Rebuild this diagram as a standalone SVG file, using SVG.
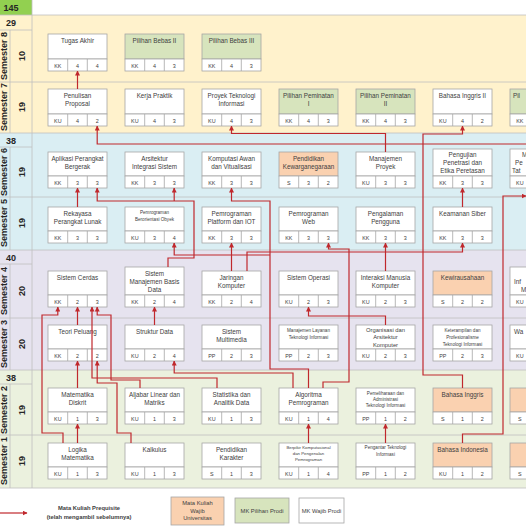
<svg xmlns="http://www.w3.org/2000/svg" width="526" height="526" viewBox="0 0 526 526">
<defs>
<marker id="ah" markerUnits="userSpaceOnUse" markerWidth="5" markerHeight="5" refX="4.5" refY="2.5" orient="auto"><path d="M0,0 L5,2.5 L0,5 z" fill="#C0282D"/></marker>
<style>
.bx{stroke:#A6A6A6;stroke-width:0.8}
.w{fill:#FFFFFF}.g{fill:#D7E4BD}.o{fill:#FAD1B0}
.dv{stroke:#A6A6A6;stroke-width:0.8}
.t{font-family:"Liberation Sans",Arial,sans-serif;font-size:6.3px;fill:#404040;text-anchor:middle}
.ts{font-size:4.6px}
.d{font-size:5.4px}
.h{font-family:"Liberation Sans",Arial,sans-serif;font-weight:bold;font-size:9px;fill:#262626;text-anchor:middle}
.sl{font-family:"Liberation Sans",Arial,sans-serif;font-weight:bold;font-size:9px;fill:#262626;text-anchor:middle}
.gl{stroke:#BFBFBF;stroke-width:0.8}
.c{fill:none;stroke:#C0282D;stroke-width:1.2;marker-end:url(#ah)}
.lg{font-family:"Liberation Sans",Arial,sans-serif;font-size:5.8px;fill:#404040;text-anchor:middle}
</style>
</defs>
<rect width="526" height="526" fill="#FFFFFF"/>
<!-- bands -->
<g id="bands">
<rect x="0" y="0" width="32" height="15" fill="#92D050"/>
<rect x="0" y="15" width="526" height="118" fill="#FFF2CC"/>
<rect x="0" y="133" width="526" height="117" fill="#DAEEF3"/>
<rect x="0" y="250" width="526" height="120" fill="#E6E3EF"/>
<rect x="0" y="370" width="526" height="118" fill="#EBF1DE"/>
<line class="gl" x1="0" y1="15" x2="526" y2="15"/>
<line class="gl" x1="0" y1="30" x2="32" y2="30"/>
<line class="gl" x1="0" y1="82" x2="526" y2="82"/>
<line class="gl" x1="0" y1="133" x2="526" y2="133"/>
<line class="gl" x1="0" y1="147" x2="32" y2="147"/>
<line class="gl" x1="0" y1="197" x2="526" y2="197"/>
<line class="gl" x1="0" y1="250" x2="526" y2="250"/>
<line class="gl" x1="0" y1="264" x2="32" y2="264"/>
<line class="gl" x1="0" y1="318" x2="526" y2="318"/>
<line class="gl" x1="0" y1="370" x2="526" y2="370"/>
<line class="gl" x1="0" y1="384" x2="32" y2="384"/>
<line class="gl" x1="0" y1="435" x2="526" y2="435"/>
<line class="gl" x1="0" y1="488" x2="526" y2="488"/>
<line class="gl" x1="32" y1="0" x2="32" y2="488"/>
<line class="gl" x1="10" y1="30" x2="10" y2="133"/>
<line class="gl" x1="10" y1="147" x2="10" y2="250"/>
<line class="gl" x1="10" y1="264" x2="10" y2="370"/>
<line class="gl" x1="10" y1="384" x2="10" y2="488"/>
<text class="h" x="11" y="11">145</text>
<text class="h" x="11" y="26">29</text>
<text class="h" x="11" y="144">38</text>
<text class="h" x="11" y="261">40</text>
<text class="h" x="11" y="381">38</text>
<text class="h" transform="translate(24.5,56) rotate(-90)">10</text>
<text class="h" transform="translate(24.5,107) rotate(-90)">19</text>
<text class="h" transform="translate(24.5,172) rotate(-90)">19</text>
<text class="h" transform="translate(24.5,223) rotate(-90)">19</text>
<text class="h" transform="translate(24.5,291) rotate(-90)">20</text>
<text class="h" transform="translate(24.5,344) rotate(-90)">20</text>
<text class="h" transform="translate(24.5,410) rotate(-90)">19</text>
<text class="h" transform="translate(24.5,461) rotate(-90)">19</text>
<text class="sl" transform="translate(6.5,56) rotate(-90)">Semester 8</text>
<text class="sl" transform="translate(6.5,107) rotate(-90)">Semester 7</text>
<text class="sl" transform="translate(6.5,172) rotate(-90)">Semester 6</text>
<text class="sl" transform="translate(6.5,223) rotate(-90)">Semester 5</text>
<text class="sl" transform="translate(6.5,291) rotate(-90)">Semester 4</text>
<text class="sl" transform="translate(6.5,344) rotate(-90)">Semester 3</text>
<text class="sl" transform="translate(6.5,410) rotate(-90)">Semester 2</text>
<text class="sl" transform="translate(6.5,461) rotate(-90)">Semester 1</text>
</g>

<!-- Semester 8 -->
<g id="n-tugas-akhir" transform="translate(48,34)"><rect class="bx w" width="59" height="25"/><rect class="bx w" y="25" width="59" height="12"/><line class="dv" x1="19.7" y1="25" x2="19.7" y2="37"/><line class="dv" x1="39.3" y1="25" x2="39.3" y2="37"/><text class="t" x="29.5" y="8.5">Tugas Akhir</text><text class="t d" x="9.8" y="33.5">KK</text><text class="t d" x="29.5" y="33.5">4</text><text class="t d" x="49.2" y="33.5">4</text></g>
<g id="n-pilihan-bebas-2" transform="translate(125,34)"><rect class="bx g" width="59" height="25"/><rect class="bx w" y="25" width="59" height="12"/><line class="dv" x1="19.7" y1="25" x2="19.7" y2="37"/><line class="dv" x1="39.3" y1="25" x2="39.3" y2="37"/><text class="t" x="29.5" y="8.5">Pilihan Bebas II</text><text class="t d" x="9.8" y="33.5">KK</text><text class="t d" x="29.5" y="33.5">4</text><text class="t d" x="49.2" y="33.5">3</text></g>
<g id="n-pilihan-bebas-3" transform="translate(202,34)"><rect class="bx g" width="59" height="25"/><rect class="bx w" y="25" width="59" height="12"/><line class="dv" x1="19.7" y1="25" x2="19.7" y2="37"/><line class="dv" x1="39.3" y1="25" x2="39.3" y2="37"/><text class="t" x="29.5" y="8.5">Pilihan Bebas III</text><text class="t d" x="9.8" y="33.5">KK</text><text class="t d" x="29.5" y="33.5">4</text><text class="t d" x="49.2" y="33.5">3</text></g>

<!-- Semester 7 -->
<g id="n-penulisan-proposal" transform="translate(48,89)"><rect class="bx w" width="59" height="25"/><rect class="bx w" y="25" width="59" height="12"/><line class="dv" x1="19.7" y1="25" x2="19.7" y2="37"/><line class="dv" x1="39.3" y1="25" x2="39.3" y2="37"/><text class="t" x="29.5" y="8.5">Penulisan</text><text class="t" x="29.5" y="16.5">Proposal</text><text class="t d" x="9.8" y="33.5">KU</text><text class="t d" x="29.5" y="33.5">4</text><text class="t d" x="49.2" y="33.5">2</text></g>
<g id="n-kerja-praktik" transform="translate(125,89)"><rect class="bx w" width="59" height="25"/><rect class="bx w" y="25" width="59" height="12"/><line class="dv" x1="19.7" y1="25" x2="19.7" y2="37"/><line class="dv" x1="39.3" y1="25" x2="39.3" y2="37"/><text class="t" x="29.5" y="8.5">Kerja Praktik</text><text class="t d" x="9.8" y="33.5">KU</text><text class="t d" x="29.5" y="33.5">4</text><text class="t d" x="49.2" y="33.5">3</text></g>
<g id="n-proyek-ti" transform="translate(202,89)"><rect class="bx w" width="59" height="25"/><rect class="bx w" y="25" width="59" height="12"/><line class="dv" x1="19.7" y1="25" x2="19.7" y2="37"/><line class="dv" x1="39.3" y1="25" x2="39.3" y2="37"/><text class="t" x="29.5" y="8.5">Proyek Teknologi</text><text class="t" x="29.5" y="16.5">Informasi</text><text class="t d" x="9.8" y="33.5">KU</text><text class="t d" x="29.5" y="33.5">4</text><text class="t d" x="49.2" y="33.5">3</text></g>
<g id="n-pilihan-peminatan-1" transform="translate(279,89)"><rect class="bx g" width="59" height="25"/><rect class="bx w" y="25" width="59" height="12"/><line class="dv" x1="19.7" y1="25" x2="19.7" y2="37"/><line class="dv" x1="39.3" y1="25" x2="39.3" y2="37"/><text class="t" x="29.5" y="8.5">Pilihan Peminatan</text><text class="t" x="29.5" y="16.5">I</text><text class="t d" x="9.8" y="33.5">KK</text><text class="t d" x="29.5" y="33.5">4</text><text class="t d" x="49.2" y="33.5">3</text></g>
<g id="n-pilihan-peminatan-2" transform="translate(356,89)"><rect class="bx g" width="59" height="25"/><rect class="bx w" y="25" width="59" height="12"/><line class="dv" x1="19.7" y1="25" x2="19.7" y2="37"/><line class="dv" x1="39.3" y1="25" x2="39.3" y2="37"/><text class="t" x="29.5" y="8.5">Pilihan Peminatan</text><text class="t" x="29.5" y="16.5">II</text><text class="t d" x="9.8" y="33.5">KK</text><text class="t d" x="29.5" y="33.5">4</text><text class="t d" x="49.2" y="33.5">3</text></g>
<g id="n-bahasa-inggris-2" transform="translate(433,89)"><rect class="bx w" width="59" height="25"/><rect class="bx w" y="25" width="59" height="12"/><line class="dv" x1="19.7" y1="25" x2="19.7" y2="37"/><line class="dv" x1="39.3" y1="25" x2="39.3" y2="37"/><text class="t" x="29.5" y="8.5">Bahasa Inggris II</text><text class="t d" x="9.8" y="33.5">KU</text><text class="t d" x="29.5" y="33.5">4</text><text class="t d" x="49.2" y="33.5">2</text></g>
<g id="n-s7-c7" transform="translate(510,89)"><rect class="bx g" width="59" height="25"/><rect class="bx w" y="25" width="59" height="12"/><line class="dv" x1="19.7" y1="25" x2="19.7" y2="37"/><text class="t" x="3" y="8.5" style="text-anchor:start">Pil</text><text class="t d" x="9.8" y="33.5">KK</text></g>

<!-- Semester 6 -->
<g id="n-aplikasi-perangkat-bergerak" transform="translate(48,152)"><rect class="bx w" width="59" height="24"/><rect class="bx w" y="24" width="59" height="12"/><line class="dv" x1="19.7" y1="24" x2="19.7" y2="36"/><line class="dv" x1="39.3" y1="24" x2="39.3" y2="36"/><text class="t" x="29.5" y="8.5">Aplikasi Perangkat</text><text class="t" x="29.5" y="16.5">Bergerak</text><text class="t d" x="9.8" y="32.5">KK</text><text class="t d" x="29.5" y="32.5">3</text><text class="t d" x="49.2" y="32.5">3</text></g>
<g id="n-arsitektur-integrasi-sistem" transform="translate(125,152)"><rect class="bx w" width="59" height="24"/><rect class="bx w" y="24" width="59" height="12"/><line class="dv" x1="19.7" y1="24" x2="19.7" y2="36"/><line class="dv" x1="39.3" y1="24" x2="39.3" y2="36"/><text class="t" x="29.5" y="8.5">Arsitektur</text><text class="t" x="29.5" y="16.5">Integrasi Sistem</text><text class="t d" x="9.8" y="32.5">KK</text><text class="t d" x="29.5" y="32.5">3</text><text class="t d" x="49.2" y="32.5">3</text></g>
<g id="n-komputasi-awan" transform="translate(202,152)"><rect class="bx w" width="59" height="24"/><rect class="bx w" y="24" width="59" height="12"/><line class="dv" x1="19.7" y1="24" x2="19.7" y2="36"/><line class="dv" x1="39.3" y1="24" x2="39.3" y2="36"/><text class="t" x="29.5" y="8.5">Komputasi Awan</text><text class="t" x="29.5" y="16.5">dan Vitualisasi</text><text class="t d" x="9.8" y="32.5">KK</text><text class="t d" x="29.5" y="32.5">3</text><text class="t d" x="49.2" y="32.5">3</text></g>
<g id="n-pendidikan-kewarganegaraan" transform="translate(279,152)"><rect class="bx o" width="59" height="24"/><rect class="bx w" y="24" width="59" height="12"/><line class="dv" x1="19.7" y1="24" x2="19.7" y2="36"/><line class="dv" x1="39.3" y1="24" x2="39.3" y2="36"/><text class="t" x="29.5" y="8.5">Pendidikan</text><text class="t" x="29.5" y="16.5">Kewarganegaraan</text><text class="t d" x="9.8" y="32.5">S</text><text class="t d" x="29.5" y="32.5">3</text><text class="t d" x="49.2" y="32.5">2</text></g>
<g id="n-manajemen-proyek" transform="translate(356,152)"><rect class="bx w" width="59" height="24"/><rect class="bx w" y="24" width="59" height="12"/><line class="dv" x1="19.7" y1="24" x2="19.7" y2="36"/><line class="dv" x1="39.3" y1="24" x2="39.3" y2="36"/><text class="t" x="29.5" y="8.5">Manajemen</text><text class="t" x="29.5" y="16.5">Proyek</text><text class="t d" x="9.8" y="32.5">KU</text><text class="t d" x="29.5" y="32.5">3</text><text class="t d" x="49.2" y="32.5">3</text></g>
<g id="n-pengujian-penetrasi" transform="translate(433,149)"><rect class="bx w" width="59" height="27"/><rect class="bx w" y="27" width="59" height="12"/><line class="dv" x1="19.7" y1="27" x2="19.7" y2="39"/><line class="dv" x1="39.3" y1="27" x2="39.3" y2="39"/><text class="t" x="29.5" y="8">Pengujian</text><text class="t" x="29.5" y="16">Penetrasi dan</text><text class="t" x="29.5" y="24">Etika Peretasan</text><text class="t d" x="9.8" y="35.5">KK</text><text class="t d" x="29.5" y="35.5">3</text><text class="t d" x="49.2" y="35.5">3</text></g>
<g id="n-s6-c7" transform="translate(510,149)"><rect class="bx w" width="59" height="27"/><rect class="bx w" y="27" width="59" height="12"/><line class="dv" x1="19.7" y1="27" x2="19.7" y2="39"/><text class="t" x="12" y="8" style="text-anchor:start">M</text><text class="t" x="5" y="16" style="text-anchor:start">Pe</text><text class="t" x="2" y="24" style="text-anchor:start">Tat</text><text class="t d" x="9.8" y="35.5">KU</text></g>

<!-- Semester 5 -->
<g id="n-rekayasa-perangkat-lunak" transform="translate(48,207)"><rect class="bx w" width="59" height="24"/><rect class="bx w" y="24" width="59" height="12"/><line class="dv" x1="19.7" y1="24" x2="19.7" y2="36"/><line class="dv" x1="39.3" y1="24" x2="39.3" y2="36"/><text class="t" x="29.5" y="8.5">Rekayasa</text><text class="t" x="29.5" y="16.5">Perangkat Lunak</text><text class="t d" x="9.8" y="32.5">KK</text><text class="t d" x="29.5" y="32.5">3</text><text class="t d" x="49.2" y="32.5">3</text></g>
<g id="n-pbo" transform="translate(125,207)"><rect class="bx w" width="59" height="24"/><rect class="bx w" y="24" width="59" height="12"/><line class="dv" x1="19.7" y1="24" x2="19.7" y2="36"/><line class="dv" x1="39.3" y1="24" x2="39.3" y2="36"/><text class="t ts" x="29.5" y="7">Pemrograman</text><text class="t ts" x="29.5" y="14">Berorientasi Obyek</text><text class="t d" x="9.8" y="32.5">KU</text><text class="t d" x="29.5" y="32.5">3</text><text class="t d" x="49.2" y="32.5">4</text></g>
<g id="n-platform-iot" transform="translate(202,207)"><rect class="bx w" width="59" height="24"/><rect class="bx w" y="24" width="59" height="12"/><line class="dv" x1="19.7" y1="24" x2="19.7" y2="36"/><line class="dv" x1="39.3" y1="24" x2="39.3" y2="36"/><text class="t" x="29.5" y="8.5">Pemrograman</text><text class="t" x="29.5" y="16.5">Platform dan IOT</text><text class="t d" x="9.8" y="32.5">KK</text><text class="t d" x="29.5" y="32.5">3</text><text class="t d" x="49.2" y="32.5">3</text></g>
<g id="n-pemrograman-web" transform="translate(279,207)"><rect class="bx w" width="59" height="24"/><rect class="bx w" y="24" width="59" height="12"/><line class="dv" x1="19.7" y1="24" x2="19.7" y2="36"/><line class="dv" x1="39.3" y1="24" x2="39.3" y2="36"/><text class="t" x="29.5" y="8.5">Pemrograman</text><text class="t" x="29.5" y="16.5">Web</text><text class="t d" x="9.8" y="32.5">KK</text><text class="t d" x="29.5" y="32.5">3</text><text class="t d" x="49.2" y="32.5">3</text></g>
<g id="n-pengalaman-pengguna" transform="translate(356,207)"><rect class="bx w" width="59" height="24"/><rect class="bx w" y="24" width="59" height="12"/><line class="dv" x1="19.7" y1="24" x2="19.7" y2="36"/><line class="dv" x1="39.3" y1="24" x2="39.3" y2="36"/><text class="t" x="29.5" y="8.5">Pengalaman</text><text class="t" x="29.5" y="16.5">Pengguna</text><text class="t d" x="9.8" y="32.5">KK</text><text class="t d" x="29.5" y="32.5">3</text><text class="t d" x="49.2" y="32.5">3</text></g>
<g id="n-keamanan-siber" transform="translate(433,207)"><rect class="bx w" width="59" height="24"/><rect class="bx w" y="24" width="59" height="12"/><line class="dv" x1="19.7" y1="24" x2="19.7" y2="36"/><line class="dv" x1="39.3" y1="24" x2="39.3" y2="36"/><text class="t" x="29.5" y="8.5">Keamanan Siber</text><text class="t d" x="9.8" y="32.5">KK</text><text class="t d" x="29.5" y="32.5">3</text><text class="t d" x="49.2" y="32.5">3</text></g>

<!-- Semester 4 -->
<g id="n-sistem-cerdas" transform="translate(48,271)"><rect class="bx w" width="59" height="24"/><rect class="bx w" y="24" width="59" height="12"/><line class="dv" x1="19.7" y1="24" x2="19.7" y2="36"/><line class="dv" x1="39.3" y1="24" x2="39.3" y2="36"/><text class="t" x="29.5" y="8.5">Sistem Cerdas</text><text class="t d" x="9.8" y="32.5">KK</text><text class="t d" x="29.5" y="32.5">2</text><text class="t d" x="49.2" y="32.5">3</text></g>
<g id="n-smbd" transform="translate(125,267)"><rect class="bx w" width="59" height="28"/><rect class="bx w" y="28" width="59" height="12"/><line class="dv" x1="19.7" y1="28" x2="19.7" y2="40"/><line class="dv" x1="39.3" y1="28" x2="39.3" y2="40"/><text class="t" x="29.5" y="9">Sistem</text><text class="t" x="29.5" y="17">Manajemen Basis</text><text class="t" x="29.5" y="25">Data</text><text class="t d" x="9.8" y="36.5">KK</text><text class="t d" x="29.5" y="36.5">2</text><text class="t d" x="49.2" y="36.5">4</text></g>
<g id="n-jaringan-komputer" transform="translate(202,271)"><rect class="bx w" width="59" height="24"/><rect class="bx w" y="24" width="59" height="12"/><line class="dv" x1="19.7" y1="24" x2="19.7" y2="36"/><line class="dv" x1="39.3" y1="24" x2="39.3" y2="36"/><text class="t" x="29.5" y="8.5">Jaringan</text><text class="t" x="29.5" y="16.5">Komputer</text><text class="t d" x="9.8" y="32.5">KK</text><text class="t d" x="29.5" y="32.5">2</text><text class="t d" x="49.2" y="32.5">4</text></g>
<g id="n-sistem-operasi" transform="translate(279,271)"><rect class="bx w" width="59" height="24"/><rect class="bx w" y="24" width="59" height="12"/><line class="dv" x1="19.7" y1="24" x2="19.7" y2="36"/><line class="dv" x1="39.3" y1="24" x2="39.3" y2="36"/><text class="t" x="29.5" y="8.5">Sistem Operasi</text><text class="t d" x="9.8" y="32.5">KU</text><text class="t d" x="29.5" y="32.5">2</text><text class="t d" x="49.2" y="32.5">3</text></g>
<g id="n-imk" transform="translate(356,271)"><rect class="bx w" width="59" height="24"/><rect class="bx w" y="24" width="59" height="12"/><line class="dv" x1="19.7" y1="24" x2="19.7" y2="36"/><line class="dv" x1="39.3" y1="24" x2="39.3" y2="36"/><text class="t" x="29.5" y="8.5">Interaksi Manusia</text><text class="t" x="29.5" y="16.5">Komputer</text><text class="t d" x="9.8" y="32.5">KU</text><text class="t d" x="29.5" y="32.5">2</text><text class="t d" x="49.2" y="32.5">3</text></g>
<g id="n-kewirausahaan" transform="translate(433,271)"><rect class="bx o" width="59" height="24"/><rect class="bx w" y="24" width="59" height="12"/><line class="dv" x1="19.7" y1="24" x2="19.7" y2="36"/><line class="dv" x1="39.3" y1="24" x2="39.3" y2="36"/><text class="t" x="29.5" y="8.5">Kewirausahaan</text><text class="t d" x="9.8" y="32.5">S</text><text class="t d" x="29.5" y="32.5">2</text><text class="t d" x="49.2" y="32.5">2</text></g>
<g id="n-s4-c7" transform="translate(510,267)"><rect class="bx w" width="59" height="28"/><rect class="bx w" y="28" width="59" height="12"/><line class="dv" x1="19.7" y1="28" x2="19.7" y2="40"/><text class="t" x="4" y="17" style="text-anchor:start">Inf</text><text class="t" x="11" y="25" style="text-anchor:start">M</text><text class="t d" x="9.8" y="36.5">KU</text></g>

<!-- Semester 3 -->
<g id="n-teori-peluang" transform="translate(48,325)"><rect class="bx w" width="59" height="24"/><rect class="bx w" y="24" width="59" height="12"/><line class="dv" x1="19.7" y1="24" x2="19.7" y2="36"/><line class="dv" x1="39.3" y1="24" x2="39.3" y2="36"/><text class="t" x="29.5" y="8.5">Teori Peluang</text><text class="t d" x="9.8" y="32.5">KK</text><text class="t d" x="29.5" y="32.5">2</text><text class="t d" x="49.2" y="32.5">2</text></g>
<g id="n-struktur-data" transform="translate(125,325)"><rect class="bx w" width="59" height="24"/><rect class="bx w" y="24" width="59" height="12"/><line class="dv" x1="19.7" y1="24" x2="19.7" y2="36"/><line class="dv" x1="39.3" y1="24" x2="39.3" y2="36"/><text class="t" x="29.5" y="8.5">Struktur Data</text><text class="t d" x="9.8" y="32.5">KU</text><text class="t d" x="29.5" y="32.5">2</text><text class="t d" x="49.2" y="32.5">4</text></g>
<g id="n-sistem-multimedia" transform="translate(202,325)"><rect class="bx w" width="59" height="24"/><rect class="bx w" y="24" width="59" height="12"/><line class="dv" x1="19.7" y1="24" x2="19.7" y2="36"/><line class="dv" x1="39.3" y1="24" x2="39.3" y2="36"/><text class="t" x="29.5" y="8.5">Sistem</text><text class="t" x="29.5" y="16.5">Multimedia</text><text class="t d" x="9.8" y="32.5">PP</text><text class="t d" x="29.5" y="32.5">2</text><text class="t d" x="49.2" y="32.5">3</text></g>
<g id="n-manajemen-layanan-ti" transform="translate(279,325)"><rect class="bx w" width="59" height="24"/><rect class="bx w" y="24" width="59" height="12"/><line class="dv" x1="19.7" y1="24" x2="19.7" y2="36"/><line class="dv" x1="39.3" y1="24" x2="39.3" y2="36"/><text class="t ts" x="29.5" y="7">Manajemen Layanan</text><text class="t ts" x="29.5" y="14">Teknologi Informasi</text><text class="t d" x="9.8" y="32.5">PP</text><text class="t d" x="29.5" y="32.5">2</text><text class="t d" x="49.2" y="32.5">3</text></g>
<g id="n-organisasi-arsitektur-komputer" transform="translate(356,325)"><rect class="bx w" width="59" height="24"/><rect class="bx w" y="24" width="59" height="12"/><line class="dv" x1="19.7" y1="24" x2="19.7" y2="36"/><line class="dv" x1="39.3" y1="24" x2="39.3" y2="36"/><text class="t" x="29.5" y="7" style="font-size:5.8px">Organisasi dan</text><text class="t" x="29.5" y="14.3" style="font-size:5.8px">Arsitektur</text><text class="t" x="29.5" y="21.6" style="font-size:5.8px">Komputer</text><text class="t d" x="9.8" y="32.5">KU</text><text class="t d" x="29.5" y="32.5">2</text><text class="t d" x="49.2" y="32.5">3</text></g>
<g id="n-keterampilan-profesionalisme" transform="translate(433,325)"><rect class="bx w" width="59" height="24"/><rect class="bx w" y="24" width="59" height="12"/><line class="dv" x1="19.7" y1="24" x2="19.7" y2="36"/><line class="dv" x1="39.3" y1="24" x2="39.3" y2="36"/><text class="t ts" x="29.5" y="6.5">Keterampilan dan</text><text class="t ts" x="29.5" y="13.5">Profesionalisme</text><text class="t ts" x="29.5" y="20.5">Teknologi Informasi</text><text class="t d" x="9.8" y="32.5">PP</text><text class="t d" x="29.5" y="32.5">2</text><text class="t d" x="49.2" y="32.5">3</text></g>
<g id="n-s3-c7" transform="translate(510,325)"><rect class="bx w" width="59" height="24"/><rect class="bx w" y="24" width="59" height="12"/><line class="dv" x1="19.7" y1="24" x2="19.7" y2="36"/><text class="t" x="4" y="8.5" style="text-anchor:start">Wa</text><text class="t d" x="9.8" y="32.5">KU</text></g>

<!-- Semester 2 -->
<g id="n-matematika-diskrit" transform="translate(48,388)"><rect class="bx w" width="59" height="24"/><rect class="bx w" y="24" width="59" height="12"/><line class="dv" x1="19.7" y1="24" x2="19.7" y2="36"/><line class="dv" x1="39.3" y1="24" x2="39.3" y2="36"/><text class="t" x="29.5" y="8.5">Matematika</text><text class="t" x="29.5" y="16.5">Diskrit</text><text class="t d" x="9.8" y="32.5">KU</text><text class="t d" x="29.5" y="32.5">1</text><text class="t d" x="49.2" y="32.5">3</text></g>
<g id="n-aljabar-linear" transform="translate(125,388)"><rect class="bx w" width="59" height="24"/><rect class="bx w" y="24" width="59" height="12"/><line class="dv" x1="19.7" y1="24" x2="19.7" y2="36"/><line class="dv" x1="39.3" y1="24" x2="39.3" y2="36"/><text class="t" x="29.5" y="8.5">Aljabar Linear dan</text><text class="t" x="29.5" y="16.5">Matriks</text><text class="t d" x="9.8" y="32.5">KU</text><text class="t d" x="29.5" y="32.5">1</text><text class="t d" x="49.2" y="32.5">3</text></g>
<g id="n-statistika" transform="translate(202,388)"><rect class="bx w" width="59" height="24"/><rect class="bx w" y="24" width="59" height="12"/><line class="dv" x1="19.7" y1="24" x2="19.7" y2="36"/><line class="dv" x1="39.3" y1="24" x2="39.3" y2="36"/><text class="t" x="29.5" y="8.5">Statistika dan</text><text class="t" x="29.5" y="16.5">Analitik Data</text><text class="t d" x="9.8" y="32.5">KU</text><text class="t d" x="29.5" y="32.5">1</text><text class="t d" x="49.2" y="32.5">3</text></g>
<g id="n-algoritma-pemrograman" transform="translate(279,388)"><rect class="bx w" width="59" height="24"/><rect class="bx w" y="24" width="59" height="12"/><line class="dv" x1="19.7" y1="24" x2="19.7" y2="36"/><line class="dv" x1="39.3" y1="24" x2="39.3" y2="36"/><text class="t" x="29.5" y="8.5">Algoritma</text><text class="t" x="29.5" y="16.5">Pemrograman</text><text class="t d" x="9.8" y="32.5">KU</text><text class="t d" x="29.5" y="32.5">1</text><text class="t d" x="49.2" y="32.5">4</text></g>
<g id="n-pemeliharaan-administrasi-ti" transform="translate(356,388)"><rect class="bx w" width="59" height="24"/><rect class="bx w" y="24" width="59" height="12"/><line class="dv" x1="19.7" y1="24" x2="19.7" y2="36"/><line class="dv" x1="39.3" y1="24" x2="39.3" y2="36"/><text class="t ts" x="29.5" y="6.5">Pemeliharaan dan</text><text class="t ts" x="29.5" y="12.5">Administrasi</text><text class="t ts" x="29.5" y="18.5">Teknologi Informasi</text><text class="t d" x="9.8" y="32.5">PP</text><text class="t d" x="29.5" y="32.5">1</text><text class="t d" x="49.2" y="32.5">2</text></g>
<g id="n-bahasa-inggris" transform="translate(433,388)"><rect class="bx o" width="59" height="24"/><rect class="bx w" y="24" width="59" height="12"/><line class="dv" x1="19.7" y1="24" x2="19.7" y2="36"/><line class="dv" x1="39.3" y1="24" x2="39.3" y2="36"/><text class="t" x="29.5" y="8.5">Bahasa Inggris</text><text class="t d" x="9.8" y="32.5">S</text><text class="t d" x="29.5" y="32.5">1</text><text class="t d" x="49.2" y="32.5">2</text></g>
<g id="n-s2-c7" transform="translate(510,388)"><rect class="bx o" width="59" height="24"/><rect class="bx w" y="24" width="59" height="12"/><line class="dv" x1="19.7" y1="24" x2="19.7" y2="36"/><text class="t d" x="9.8" y="32.5">S</text></g>

<!-- Semester 1 -->
<g id="n-logika-matematika" transform="translate(48,443)"><rect class="bx w" width="59" height="24"/><rect class="bx w" y="24" width="59" height="12"/><line class="dv" x1="19.7" y1="24" x2="19.7" y2="36"/><line class="dv" x1="39.3" y1="24" x2="39.3" y2="36"/><text class="t" x="29.5" y="8.5">Logika</text><text class="t" x="29.5" y="16.5">Matematika</text><text class="t d" x="9.8" y="32.5">KU</text><text class="t d" x="29.5" y="32.5">1</text><text class="t d" x="49.2" y="32.5">3</text></g>
<g id="n-kalkulus" transform="translate(125,443)"><rect class="bx w" width="59" height="24"/><rect class="bx w" y="24" width="59" height="12"/><line class="dv" x1="19.7" y1="24" x2="19.7" y2="36"/><line class="dv" x1="39.3" y1="24" x2="39.3" y2="36"/><text class="t" x="29.5" y="8.5">Kalkulus</text><text class="t d" x="9.8" y="32.5">KU</text><text class="t d" x="29.5" y="32.5">1</text><text class="t d" x="49.2" y="32.5">3</text></g>
<g id="n-pendidikan-karakter" transform="translate(202,443)"><rect class="bx w" width="59" height="24"/><rect class="bx w" y="24" width="59" height="12"/><line class="dv" x1="19.7" y1="24" x2="19.7" y2="36"/><line class="dv" x1="39.3" y1="24" x2="39.3" y2="36"/><text class="t" x="29.5" y="8.5">Pendidikan</text><text class="t" x="29.5" y="16.5">Karakter</text><text class="t d" x="9.8" y="32.5">S</text><text class="t d" x="29.5" y="32.5">1</text><text class="t d" x="49.2" y="32.5">3</text></g>
<g id="n-berpikir-komputasional" transform="translate(279,443)"><rect class="bx w" width="59" height="24"/><rect class="bx w" y="24" width="59" height="12"/><line class="dv" x1="19.7" y1="24" x2="19.7" y2="36"/><line class="dv" x1="39.3" y1="24" x2="39.3" y2="36"/><text class="t ts" x="29.5" y="5.8" style="font-size:4.3px">Berpikir Komputasional</text><text class="t ts" x="29.5" y="11.8" style="font-size:4.3px">dan Pengenalan</text><text class="t ts" x="29.5" y="18.3" style="font-size:4.3px">Pemrograman</text><text class="t d" x="9.8" y="32.5">KU</text><text class="t d" x="29.5" y="32.5">1</text><text class="t d" x="49.2" y="32.5">4</text></g>
<g id="n-pengantar-ti" transform="translate(356,443)"><rect class="bx w" width="59" height="24"/><rect class="bx w" y="24" width="59" height="12"/><line class="dv" x1="19.7" y1="24" x2="19.7" y2="36"/><line class="dv" x1="39.3" y1="24" x2="39.3" y2="36"/><text class="t ts" x="29.5" y="6">Pengantar Teknologi</text><text class="t ts" x="29.5" y="12.8">Informasi</text><text class="t d" x="9.8" y="32.5">PP</text><text class="t d" x="29.5" y="32.5">1</text><text class="t d" x="49.2" y="32.5">2</text></g>
<g id="n-bahasa-indonesia" transform="translate(433,443)"><rect class="bx o" width="59" height="24"/><rect class="bx w" y="24" width="59" height="12"/><line class="dv" x1="19.7" y1="24" x2="19.7" y2="36"/><line class="dv" x1="39.3" y1="24" x2="39.3" y2="36"/><text class="t" x="29.5" y="8.5">Bahasa Indonesia</text><text class="t d" x="9.8" y="32.5">KU</text><text class="t d" x="29.5" y="32.5">1</text><text class="t d" x="49.2" y="32.5">2</text></g>
<g id="n-s1-c7" transform="translate(510,443)"><rect class="bx o" width="59" height="24"/><rect class="bx w" y="24" width="59" height="12"/><line class="dv" x1="19.7" y1="24" x2="19.7" y2="36"/><text class="t d" x="9.8" y="32.5">S</text></g>

<!-- connectors -->
<g id="connectors">
<path class="c" d="M77.5,89 V71"/>
<path class="c" d="M526,144 H97.2 V126"/>
<path class="c" d="M385.5,152 V133.5 H231.5 V126"/>
<path class="c" d="M462.5,388 V375 H423 V134 H462.5 V126"/>
<path class="c" d="M77.5,207 V188"/>
<path class="c" d="M168,267 V258 H194 V201 H97.2 V188"/>
<path class="c" d="M174.2,201 V188"/>
<path class="c" d="M308.5,388 V369 H270 V201 H231.5 V188"/>
<path class="c" d="M270,255 H174.2 V243"/>
<path class="c" d="M247,271 V252 H462.5 V243"/>
<path class="c" d="M231.5,271 V243"/>
<path class="c" d="M385.5,271 V243"/>
<path class="c" d="M323,388 V382 H349 V249 H328.5 V243"/>
<path class="c" d="M385.5,325 V316 H308.5 V307"/>
<path class="c" d="M154.5,325 V307"/>
<path class="c" d="M293,388 V373 H174.2 V361"/>
<path class="c" d="M462.5,207 V188"/>
<path class="c" d="M308.5,443 V424"/>
<path class="c" d="M385.5,443 V424"/>
<path class="c" d="M77.5,443 V424"/>
<path class="c" d="M63,443 V433 H42 V315 H57.8 V307"/>
<path class="c" d="M77.5,388 V361"/>
<path class="c" d="M77.5,325 V307"/>
<path class="c" d="M131,443 V433 H117 V383 H97.2 V361"/>
<path class="c" d="M217,388 V378 H92 V307"/>
<path class="c" d="M140,388 V380 H111 V315 H97.2 V307"/>
<path class="c" d="M462.5,443 V434 H503 V196 H526"/>
</g>

<!-- legend -->
<g id="legend">
<path class="c" d="M0,513 H27"/>
<text class="lg" x="89" y="510" style="font-weight:bold">Mata Kuliah Prequisite</text>
<text class="lg" x="89" y="519" style="font-weight:bold">(telah mengambil sebelumnya)</text>
<g id="lg-wajib-universitas"><rect class="bx o" x="171" y="497" width="53" height="28"/><text class="lg" x="197.5" y="505">Mata Kuliah</text><text class="lg" x="197.5" y="512.5">Wajib</text><text class="lg" x="197.5" y="520">Universitas</text></g>
<g id="lg-pilihan-prodi"><rect class="bx g" x="235" y="498" width="54" height="25"/><text class="lg" x="262" y="512.5">MK Pilihan Prodi</text></g>
<g id="lg-wajib-prodi"><rect class="bx w" x="299" y="498" width="45" height="25"/><text class="lg" x="321.5" y="512.5">MK Wajib Prodi</text></g>
</g>
</svg>
